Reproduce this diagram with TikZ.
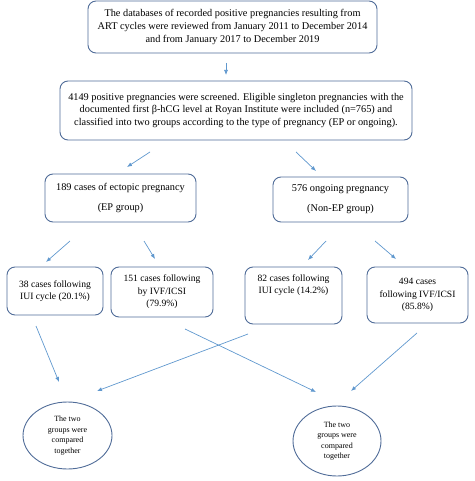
\documentclass[tikz,border=0pt]{standalone}
\usepackage{fontspec}
\setmainfont{Liberation Serif}
\usepackage{tikz}
\usetikzlibrary{shapes.geometric,arrows.meta}

\definecolor{boxline}{RGB}{80,108,152}
\definecolor{arrline}{RGB}{96,152,206}

\begin{document}
\begin{tikzpicture}[x=1pt,y=1pt,
  box/.style={draw=boxline,line width=0.9pt,rounded corners=8pt,align=center,inner sep=2pt},
  oval/.style={draw=boxline,line width=0.9pt,ellipse,align=center,inner sep=0pt,font=\fontsize{8}{10.4}\selectfont},
  arr/.style={draw=arrline,line width=0.7pt,-{Latex[length=5pt,width=4pt]}}]
\useasboundingbox (0,0) rectangle (474,-481);

% top and screening boxes
\node (db) [box,minimum width=289pt,minimum height=52pt,font=\fontsize{10.3}{12.6}\selectfont]
  at (232.5,-27) {The databases of recorded positive pregnancies resulting from\\
  ART cycles were reviewed from January 2011 to December 2014\\
  and from January 2017 to December 2019};
\node (screen) [box,minimum width=352pt,minimum height=59pt,font=\fontsize{10.3}{12.6}\selectfont]
  at (236,-110.5) {4149 positive pregnancies were screened. Eligible singleton pregnancies with the\\
  documented first β-hCG level at Royan Institute were included (n=765) and\\
  classified into two groups according to the type of pregnancy (EP or ongoing).};

% the two groups
\node (ep) [box,minimum width=151pt,minimum height=48pt,font=\fontsize{10.3}{20}\selectfont]
  at (120.5,-198) {189 cases of ectopic pregnancy\\ (EP group)};
\node (nonep) [box,minimum width=135pt,minimum height=45pt,font=\fontsize{10.3}{20}\selectfont]
  at (340.5,-199.5) {576 ongoing pregnancy\\ (Non-EP group)};

% cycle type
\node (epiui) [box,minimum width=96pt,minimum height=48pt,font=\fontsize{9.6}{11.8}\selectfont]
  at (55,-291) {38 cases following\\ IUI cycle (20.1\%)};
\node (epivf) [box,minimum width=102pt,minimum height=50pt,font=\fontsize{9.6}{12.6}\selectfont]
  at (162,-292) {151 cases following\\ by IVF/ICSI\\ (79.9\%)};
\node (ogiui) [box,minimum width=97pt,minimum height=57pt,font=\fontsize{9.6}{11.8}\selectfont,text depth=22pt]
  at (293.5,-295.5) {82 cases following\\ IUI cycle (14.2\%)};
\node (ogivf) [box,minimum width=101pt,minimum height=56pt,font=\fontsize{9.6}{12.6}\selectfont]
  at (417.5,-295) {494 cases\\ following IVF/ICSI\\ (85.8\%)};

% comparisons
\node (cmpl) [oval,minimum width=89pt,minimum height=67pt] at (67.5,-435.5)
  {The two\\ groups were\\ compared\\ together};
\node (cmpr) [oval,minimum width=88pt,minimum height=70pt] at (337,-441)
  {The two\\ groups were\\ compared\\ together};

% arrow ends
\coordinate (a0s) at (226,-63);  \coordinate (a0e) at (226,-75);
\coordinate (a1s) at (150,-152); \coordinate (a1e) at (127,-167);
\coordinate (a2s) at (296,-152); \coordinate (a2e) at (316,-171);
\coordinate (a3s) at (70,-241);  \coordinate (a3e) at (46,-262);
\coordinate (a4s) at (144,-241); \coordinate (a4e) at (155,-259);
\coordinate (a5s) at (326,-241); \coordinate (a5e) at (308,-260);
\coordinate (a6s) at (375,-241); \coordinate (a6e) at (396,-259);
\coordinate (a7s) at (36,-326);  \coordinate (a7e) at (59,-382);
\coordinate (a8s) at (248,-334); \coordinate (a8e) at (97,-391);
\coordinate (a9s) at (185,-329); \coordinate (a9e) at (316,-392);
\coordinate (a10s) at (417,-333); \coordinate (a10e) at (351,-391);

\foreach \i in {0,...,10}
  \draw [arr] (a\i s) -- (a\i e);

\end{tikzpicture}
\end{document}
